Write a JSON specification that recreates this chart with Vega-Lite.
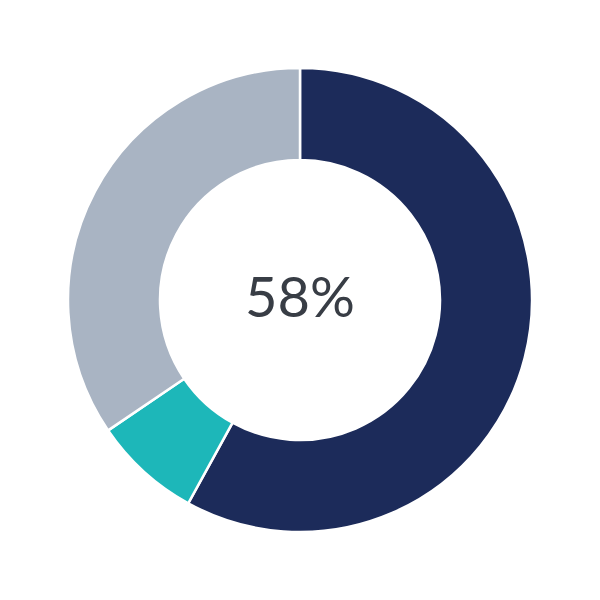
{
  "$schema": "https://vega.github.io/schema/vega-lite/v6.json",
  "description": "Donut chart with centre label.",
  "width": 600,
  "height": 600,
  "autosize": {"type": "fit", "contains": "padding"},
  "padding": 0,
  "background": "white",
  "data": {
    "values": [
      {"segment": "A", "order": 1, "share": 58},
      {"segment": "B", "order": 2, "share": 7.5},
      {"segment": "C", "order": 3, "share": 34.5}
    ]
  },
  "layer": [
    {
      "mark": {"type": "arc", "innerRadius": 140, "outerRadius": 232, "stroke": "white", "strokeWidth": 2.5},
      "encoding": {
        "theta": {"field": "share", "type": "quantitative", "stack": true},
        "order": {"field": "order", "type": "quantitative"},
        "color": {
          "field": "segment", "type": "nominal", "legend": null,
          "scale": {"domain": ["A", "B", "C"], "range": ["#1c2b5a", "#1db7b9", "#a9b4c3"]}
        }
      }
    },
    {
      "data": {"values": [{"label": "58%"}]},
      "mark": {"type": "text", "font": "Lato", "fontSize": 56, "color": "#383d45", "align": "center", "baseline": "middle"},
      "encoding": {
        "text": {"field": "label", "type": "nominal"}
      }
    }
  ],
  "config": {
    "view": {"stroke": null}
  }
}
